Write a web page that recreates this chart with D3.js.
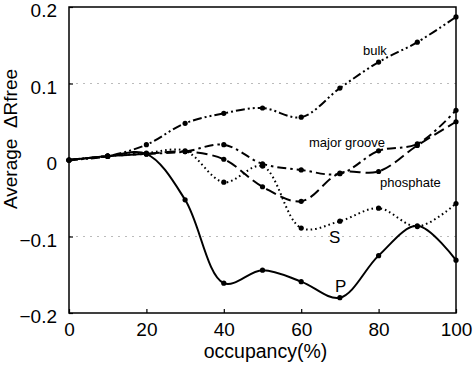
<!DOCTYPE html>
<html>
<head>
<meta charset="utf-8">
<script src="https://cdn.jsdelivr.net/npm/d3@7"></script>
<style>
  body { margin: 0; background: #fff; }
  text { font-family: "Liberation Sans", Arial, sans-serif; fill: #000; }
</style>
</head>
<body>
<script>
// occupancy (%) on the x axis
var occupancy = [0, 10, 20, 30, 40, 50, 60, 70, 80, 90, 100];

// average delta Rfree per occupancy
var bulk        = [0, 0.005, 0.02, 0.048, 0.061, 0.068, 0.056, 0.094, 0.128, 0.154, 0.187];
var majorGroove = [0, 0.005, 0.008, 0.011, 0.020, -0.005, -0.013, -0.018, 0.012, 0.021, 0.065];
var phosphate   = [0, 0.005, 0.008, 0.011, 0.001, -0.035, -0.054, -0.017, -0.015, 0.019, 0.050];
var sSeries     = [0, 0.005, 0.009, 0.012, -0.029, -0.008, -0.089, -0.080, -0.063, -0.087, -0.057];
var pSeries     = [0, 0.005, 0.008, -0.052, -0.161, -0.144, -0.159, -0.180, -0.125, -0.086, -0.131];

var xTicks = [0, 20, 40, 60, 80, 100];
var yTicks = [-0.2, -0.1, 0, 0.1, 0.2];
var gridValues = [-0.1, 0.1];

var width = 474, height = 366;
var margin = {left: 69, right: 18, top: 7, bottom: 53};

var svg = d3.select("body").append("svg")
  .attr("width", width)
  .attr("height", height);

var x = d3.scaleLinear().domain([0, 100]).range([margin.left, width - margin.right]);
var y = d3.scaleLinear().domain([-0.2, 0.2]).range([height - margin.bottom, margin.top]);

//faint dotted guides
svg.selectAll(".grid").data(gridValues).enter().append("line")
  .attr("x1", x(0)).attr("x2", x(100))
  .attr("y1", function(d){ return y(d); })
  .attr("y2", function(d){ return y(d); })
  .attr("stroke", "#bbb").attr("stroke-width", 1)
  .attr("stroke-dasharray", "2,5");

//frame
svg.append("rect")
  .attr("x", x(0)).attr("y", y(0.2))
  .attr("width", x(100) - x(0)).attr("height", y(-0.2) - y(0.2))
  .attr("fill", "none").attr("stroke", "#000").attr("stroke-width", 1.5);

//axes with inward ticks
var xAxis = svg.append("g")
  .attr("transform", "translate(0," + y(-0.2) + ")")
  .call(d3.axisBottom(x).tickValues(xTicks).tickSize(-4).tickPadding(10).tickFormat(d3.format("d")));
var yAxis = svg.append("g")
  .attr("transform", "translate(" + x(0) + ",0)")
  .call(d3.axisLeft(y).tickValues(yTicks).tickSize(-4).tickPadding(12)
    .tickFormat(function(d){ return d === 0 ? "0" : d3.format(".1f")(d); }));
[xAxis, yAxis].forEach(function(a){
  a.select(".domain").remove();
  a.selectAll("line").attr("stroke", "#000").attr("stroke-width", 1.2);
  a.selectAll("text").attr("font-size", 19).attr("font-family", "Liberation Sans, Arial, sans-serif");
});
yAxis.selectAll("text").attr("dy", "0.5em");

var series = [
  {name: "bulk", values: bulk, dash: "9,3,2,3,2,3"},
  {name: "major groove", values: majorGroove, dash: "9,4,2.5,4"},
  {name: "phosphate", values: phosphate, dash: "11,5"},
  {name: "S", values: sSeries, dash: "1.6,3"},
  {name: "P", values: pSeries, dash: null}
];

var line = d3.line()
  .x(function(d, i){ return x(occupancy[i]); })
  .y(function(d){ return y(d); })
  .curve(d3.curveCatmullRom.alpha(0.5));

var g = svg.selectAll(".series").data(series).enter().append("g");
g.append("path")
  .attr("d", function(d){ return line(d.values); })
  .attr("fill", "none").attr("stroke", "#000").attr("stroke-width", 2)
  .attr("stroke-dasharray", function(d){ return d.dash; });
g.selectAll("circle").data(function(d){ return d.values; }).enter().append("circle")
  .attr("cx", function(d, i){ return x(occupancy[i]); })
  .attr("cy", function(d){ return y(d); })
  .attr("r", 2.6).attr("fill", "#000");

//series labels
var labels = [
  {text: "bulk", x: 363, y: 55, size: 13},
  {text: "major groove", x: 309, y: 147, size: 13},
  {text: "phosphate", x: 380, y: 187, size: 13},
  {text: "S", x: 329, y: 243, size: 17},
  {text: "P", x: 335, y: 292, size: 17}
];
svg.selectAll(".lbl").data(labels).enter().append("text")
  .attr("x", function(d){ return d.x; })
  .attr("y", function(d){ return d.y; })
  .attr("font-size", function(d){ return d.size; })
  .text(function(d){ return d.text; });

//axis titles
svg.append("text")
  .attr("x", (x(0) + x(100)) / 2 + 3).attr("y", 358)
  .attr("text-anchor", "middle").attr("font-size", 19.5)
  .text("occupancy(%)");
svg.append("text")
  .attr("transform", "translate(17,139) rotate(-90)")
  .attr("text-anchor", "middle").attr("font-size", 19)
  .attr("xml:space", "preserve")
  .text("Average  \u0394Rfree");
</script>
</body>
</html>
